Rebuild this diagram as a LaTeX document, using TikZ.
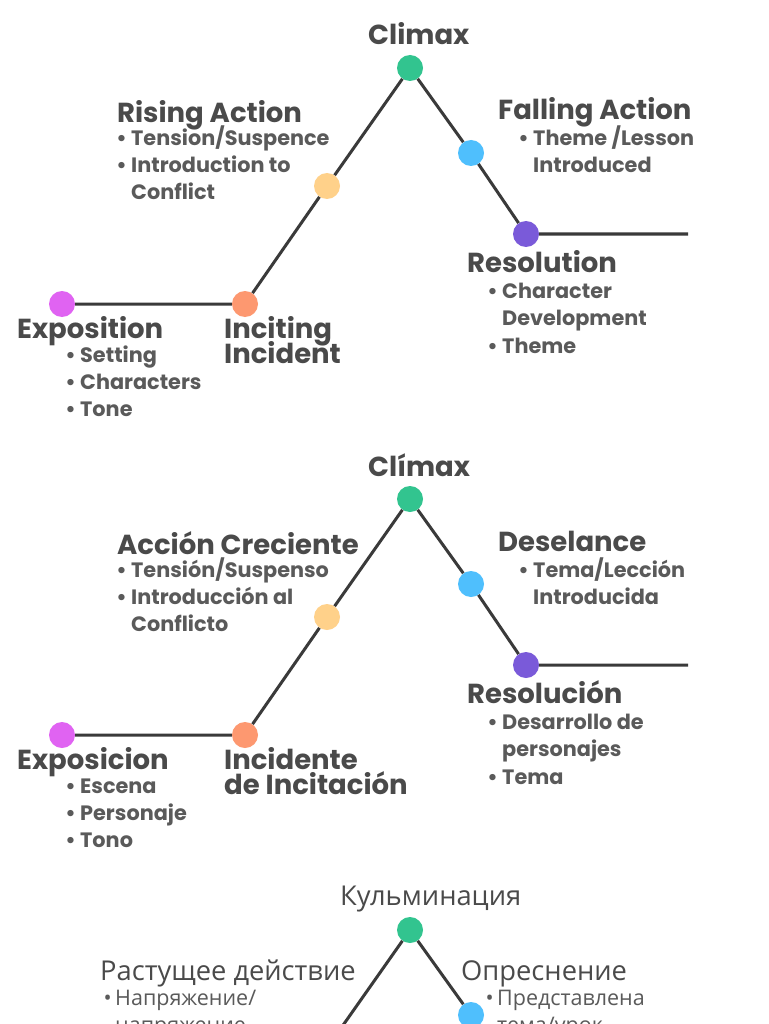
\documentclass[tikz,border=0pt]{standalone}
\usepackage{fontspec}
\setmainfont{Poppins}
\newfontfamily\rufont{Open Sans}
\definecolor{cmag}{HTML}{E063F2}
\definecolor{corange}{HTML}{FD9870}
\definecolor{cyel}{HTML}{FFD18A}
\definecolor{cgreen}{HTML}{32C48F}
\definecolor{cblue}{HTML}{4FBFFD}
\definecolor{cpurp}{HTML}{7A5AD9}
\definecolor{linec}{HTML}{3A3A3A}
\definecolor{headc}{HTML}{4A4A4A}
\definecolor{itemc}{HTML}{5A5A5A}
\tikzset{
  dot/.style={circle, fill=#1, minimum size=26pt, inner sep=0pt},
  conn/.style={line width=3pt, draw=linec},
  head/.style={anchor=base west, inner sep=0pt, text=headc, font=\fontsize{27.5}{30}\selectfont\bfseries},
  item/.style={anchor=base west, inner sep=0pt, text=itemc, font=\fontsize{20.8}{24}\selectfont\bfseries},
  bul/.style={anchor=base east, inner sep=0pt, text=itemc, font=\fontsize{20.8}{24}\selectfont\bfseries},
  ruhead/.style={anchor=base west, inner sep=0pt, text=headc, font=\fontsize{27.3}{30}\selectfont\rufont},
  ruitem/.style={anchor=base west, inner sep=0pt, text=itemc, font=\fontsize{21.5}{24}\selectfont\rufont},
  rubul/.style={anchor=base east, inner sep=0pt, text=itemc, font=\fontsize{21.5}{24}\selectfont\rufont},
}
\newcommand\arcplot[1]{%
  \node[dot=cmag] (#1exp) at (62,304) {};
  \node[dot=corange] (#1inc) at (245,304) {};
  \node[dot=cyel] (#1ris) at (327,186) {};
  \node[dot=cgreen] (#1cli) at (410,68) {};
  \node[dot=cblue] (#1fal) at (471,153) {};
  \node[dot=cpurp] (#1res) at (526,234) {};
  \coordinate (#1end) at (688,234);
  \draw[conn] (#1exp) -- (#1inc) -- (#1ris) -- (#1cli) -- (#1fal) -- (#1res) -- (#1end);
}
\begin{document}
\begin{tikzpicture}[x=1pt,y=-1pt]
\useasboundingbox (0,0) rectangle (768,1024);
\clip (0,0) rectangle (768,1024);
\fill[white] (0,0) rectangle (768,1024);

% ---------- English ----------
\arcplot{a}
\node[head] (aclit) at (368,45) {Climax};
\node[head] (arist) at (117,123) {Rising Action};
\node[bul] (arb1) at (127,146) {•};
\node[item] (ari1) at (131,146) {Tension/Suspence};
\node[bul] (arb2) at (127,173) {•};
\node[item] (ari2) at (131,173) {Introduction to};
\node[item] (ari3) at (131,200) {Conflict};
\node[head] (afalt) at (498,120) {Falling Action};
\node[bul] (afb1) at (529,146) {•};
\node[item] (afi1) at (533,146) {Theme /Lesson};
\node[item] (afi2) at (533,173) {Introduced};
\node[head] (aexpt) at (17,338) {Exposition};
\node[bul] (aeb1) at (76,362) {•};
\node[item] (aei1) at (80,362) {Setting};
\node[bul] (aeb2) at (76,389) {•};
\node[item] (aei2) at (80,389) {Characters};
\node[bul] (aeb3) at (76,416) {•};
\node[item] (aei3) at (80,416) {Tone};
\node[head] (aint1) at (224,338) {Inciting};
\node[head] (aint2) at (224,363) {Incident};
\node[head] (arest) at (467,272) {Resolution};
\node[bul] (asb1) at (498,298) {•};
\node[item] (asi1) at (502,298) {Character};
\node[item] (asi2) at (502,325) {Development};
\node[bul] (asb3) at (498,353) {•};
\node[item] (asi3) at (502,353) {Theme};

% ---------- Spanish ----------
\begin{scope}[shift={(0,431)}]
\arcplot{b}
\node[head] (bclit) at (368,45) {Clímax};
\node[head] (brist) at (117,123) {Acción Creciente};
\node[bul] (brb1) at (127,146) {•};
\node[item] (bri1) at (131,146) {Tensión/Suspenso};
\node[bul] (brb2) at (127,173) {•};
\node[item] (bri2) at (131,173) {Introducción al};
\node[item] (bri3) at (131,200) {Conflicto};
\node[head] (bfalt) at (498,120) {Deselance};
\node[bul] (bfb1) at (529,146) {•};
\node[item] (bfi1) at (533,146) {Tema/Lección};
\node[item] (bfi2) at (533,173) {Introducida};
\node[head] (bexpt) at (17,338) {Exposicion};
\node[bul] (beb1) at (76,362) {•};
\node[item] (bei1) at (80,362) {Escena};
\node[bul] (beb2) at (76,389) {•};
\node[item] (bei2) at (80,389) {Personaje};
\node[bul] (beb3) at (76,416) {•};
\node[item] (bei3) at (80,416) {Tono};
\node[head] (bint1) at (224,338) {Incidente};
\node[head] (bint2) at (224,363) {de Incitación};
\node[head] (brest) at (467,272) {Resolución};
\node[bul] (bsb1) at (498,298) {•};
\node[item] (bsi1) at (502,298) {Desarrollo de};
\node[item] (bsi2) at (502,325) {personajes};
\node[bul] (bsb3) at (498,353) {•};
\node[item] (bsi3) at (502,353) {Tema};
\end{scope}

% ---------- Russian ----------
\begin{scope}[shift={(0,862)}]
\arcplot{c}
\node[ruhead] (cclit) at (340,43) {Кульминация};
\node[ruhead] (crist) at (100,118) {Растущее действие};
\node[rubul] (crb1) at (112,143) {•};
\node[ruitem] (cri1) at (115,143) {Напряжение/};
\node[ruitem] (cri2) at (115,170) {напряжение};
\node[ruhead] (cfalt) at (461,118) {Опреснение};
\node[rubul] (cfb1) at (494,143) {•};
\node[ruitem] (cfi1) at (497,143) {Представлена};
\node[ruitem] (cfi2) at (497,170) {тема/урок};
\end{scope}
\end{tikzpicture}
\end{document}
